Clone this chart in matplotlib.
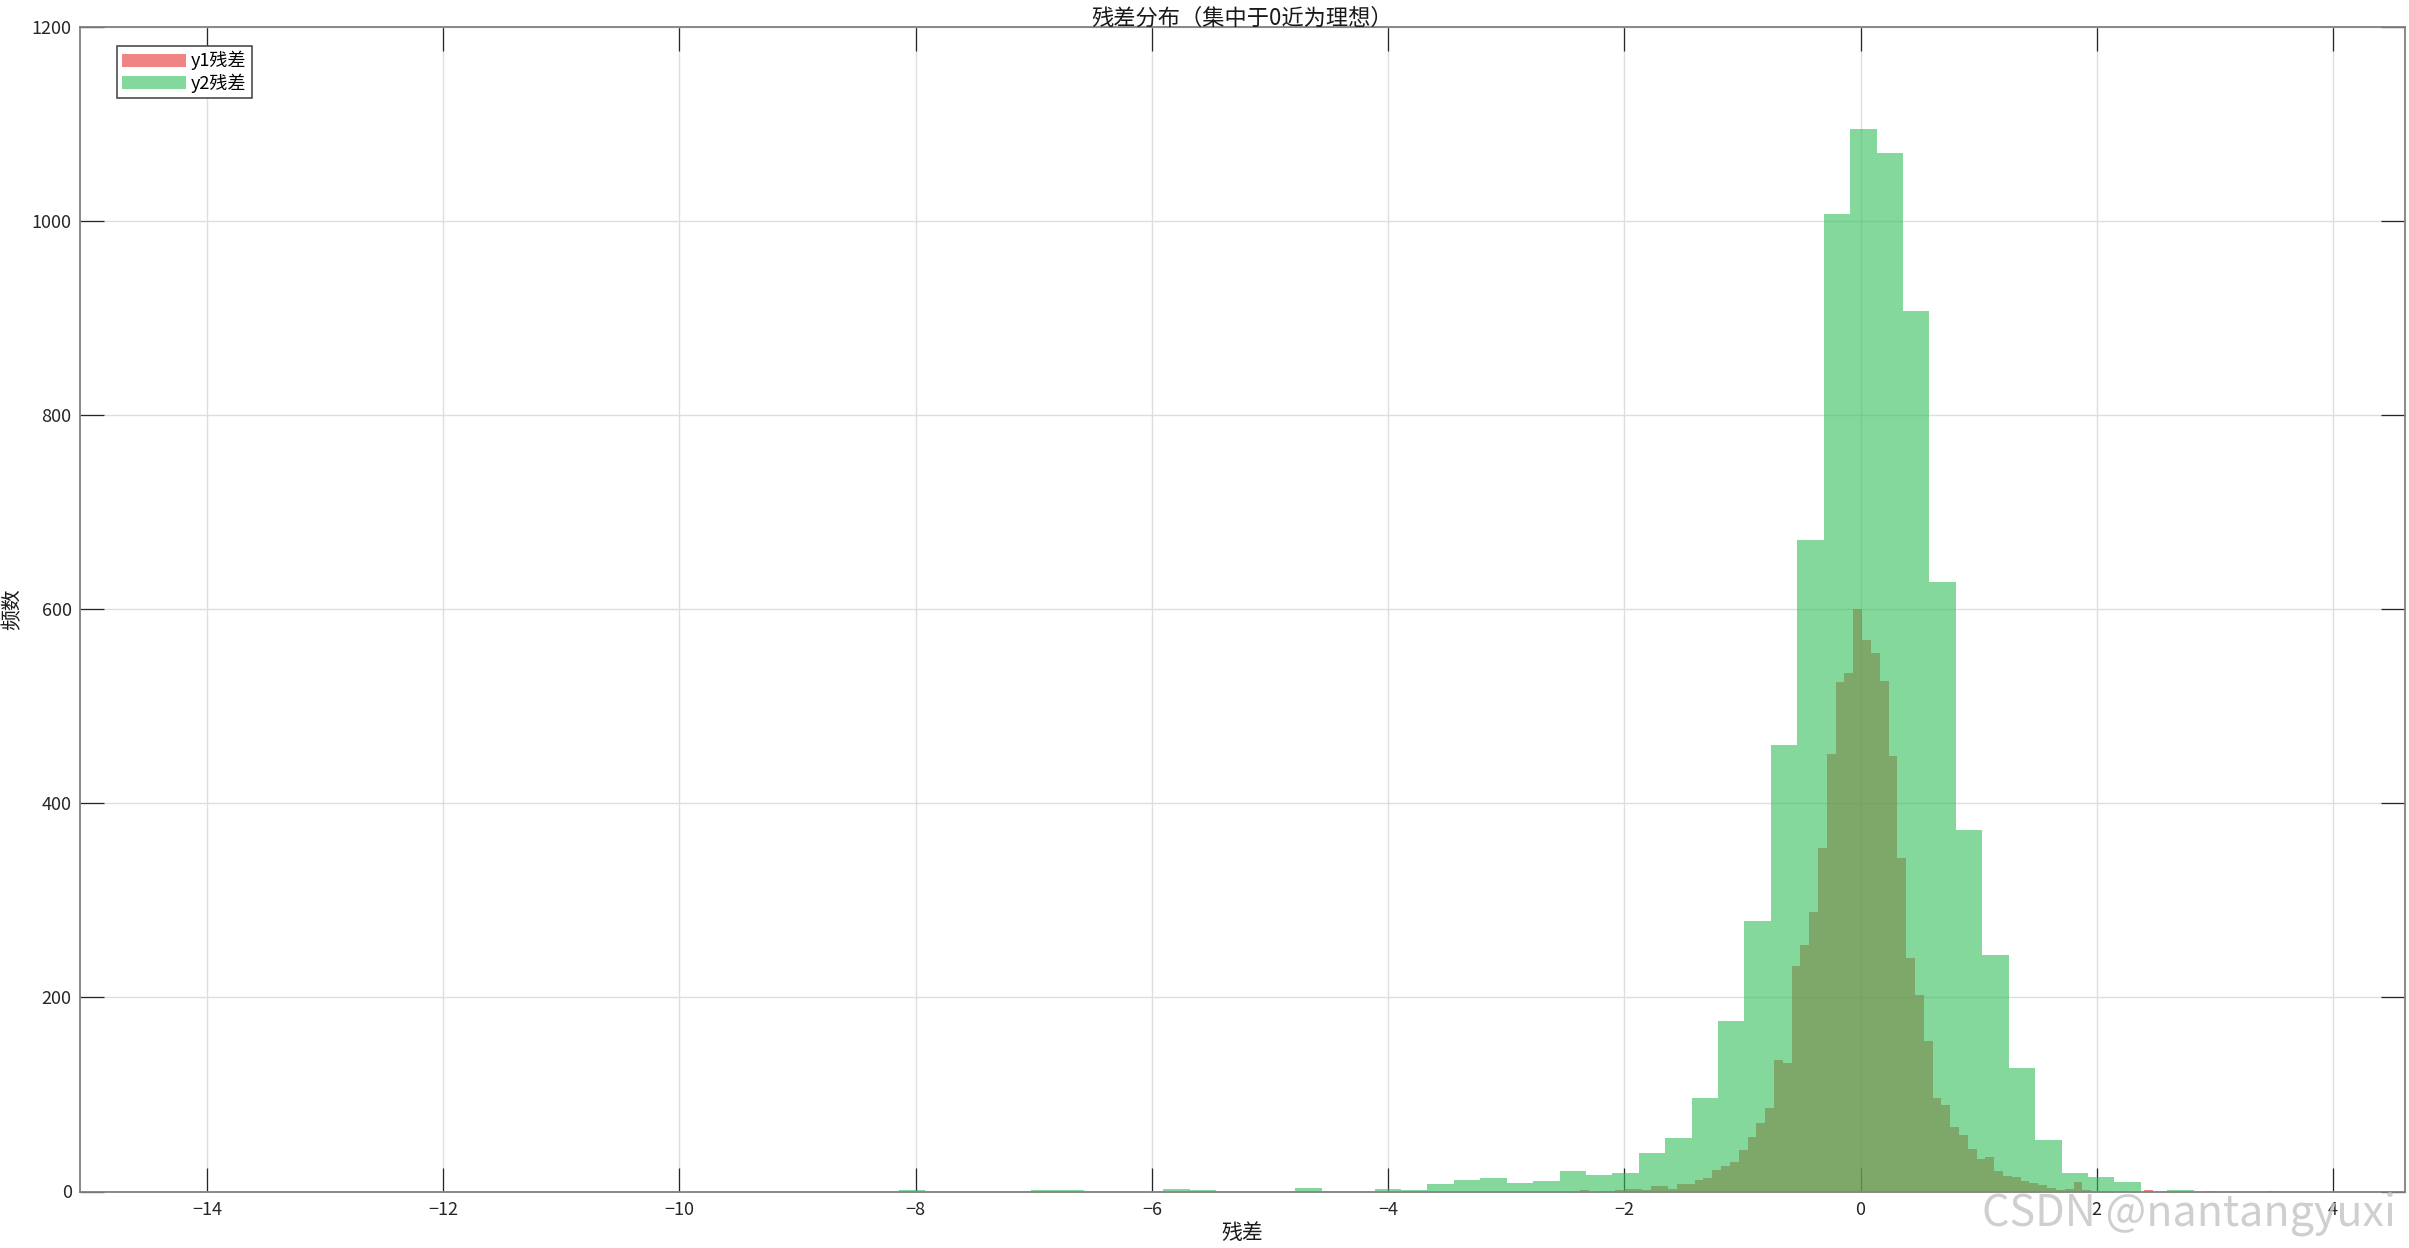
import matplotlib
matplotlib.use("Agg")
import matplotlib.pyplot as plt
import numpy as np

plt.rcParams['font.family'] = ['Noto Sans CJK SC', 'DejaVu Sans']

# y2 residual histogram: 88 bins, first edge and width
y2_start = -15.0756
y2_width = 0.2237
y2_counts = [0, 0, 0, 0, 1, 0, 1, 0, 0, 0,
             0, 0, 1, 1, 0, 0, 0, 1, 0, 0,
             0, 0, 0, 0, 0, 0, 0, 1, 1, 0,
             0, 2, 1, 0, 1, 0, 2, 2, 0, 1,
             1, 3, 2, 0, 1, 1, 4, 1, 1, 3,
             2, 8, 12, 14, 9, 11, 21, 17, 19, 40,
             55, 96, 176, 279, 460, 671, 1007, 1095, 1070, 907,
             628, 373, 244, 127, 53, 19, 15, 10, 0, 2,
             0, 1, 0, 1, 0, 0, 0, 0]

# y1 residual histogram: narrower bins
y1_start = -2.374
y1_width = 0.0746
y1_counts = [2, 0, 1, 1, 2, 3, 3, 2, 6, 6,
             3, 8, 8, 12, 14, 22, 26, 30, 43, 56,
             71, 86, 136, 132, 232, 254, 288, 354, 451, 525,
             534, 600, 568, 555, 526, 449, 344, 241, 203, 155,
             96, 89, 66, 58, 44, 34, 36, 21, 16, 15,
             11, 9, 7, 4, 2, 3, 10, 2, 1, 1,
             0, 1, 0, 0, 2, 0, 0, 0, 0, 0,
             0, 1, 0, 0, 0, 0, 0, 0, 1]

y1_edges = y1_start + y1_width * np.arange(len(y1_counts))
y2_edges = y2_start + y2_width * np.arange(len(y2_counts))

fig = plt.figure(figsize=(24.09, 12.48), dpi=100)
ax = fig.add_axes([80 / 2409, 56.5 / 1248, 2325 / 2409, 1164.5 / 1248])

ax.bar(y1_edges, y1_counts, width=y1_width, align='edge', color=(0.9, 0.2, 0.2),
       alpha=0.6, linewidth=0, label='y1残差', zorder=2)
ax.bar(y2_edges, y2_counts, width=y2_width, align='edge', color=(0.2, 0.75, 0.35),
       alpha=0.6, linewidth=0, label='y2残差', zorder=3)

ax.set_xlim(y2_start, y2_start + y2_width * len(y2_counts))
ax.set_ylim(0, 1200)
ax.set_xticks(np.arange(-14, 5, 2))
ax.set_yticks(np.arange(0, 1201, 200))

ax.grid(True, color='#dedede', linewidth=1.0, zorder=1)
ax.set_axisbelow(True)
ax.tick_params(direction='in', length=17, width=0.9, color='#262626',
               top=True, right=True, labelsize=13, labelcolor='#262626')
ax.tick_params(axis='x', pad=7)
ax.tick_params(axis='y', pad=6)
for s in ax.spines.values():
    s.set_color('#808080')
    s.set_linewidth(1.3)

ax.set_title('残差分布（集中于0近为理想）', fontsize=16, color='#1a1a1a', pad=2)
ax.set_xlabel('残差', fontsize=15, color='#1a1a1a')
ax.set_ylabel('频数', fontsize=15, color='#1a1a1a')
ax.xaxis.set_label_coords(0.5, -0.026)
ax.yaxis.set_label_coords(-0.0245, 0.5)

leg = ax.legend(loc='upper left', bbox_to_anchor=(0.0159, 0.984), borderaxespad=0,
                fontsize=13, handlelength=3.5, handleheight=0.75, handletextpad=0.3,
                labelspacing=0.15, borderpad=0.3, fancybox=False, framealpha=1)
leg.get_frame().set_edgecolor('#4d4d4d')
leg.get_frame().set_linewidth(1.2)

fig.text(1982 / 2409, 1 - 1225 / 1248, 'CSDN @nantangyuxi', fontsize=31,
         color='#c4c4c4', alpha=0.8, ha='left', va='baseline', zorder=10)

fig.savefig('out.png', dpi=100)
